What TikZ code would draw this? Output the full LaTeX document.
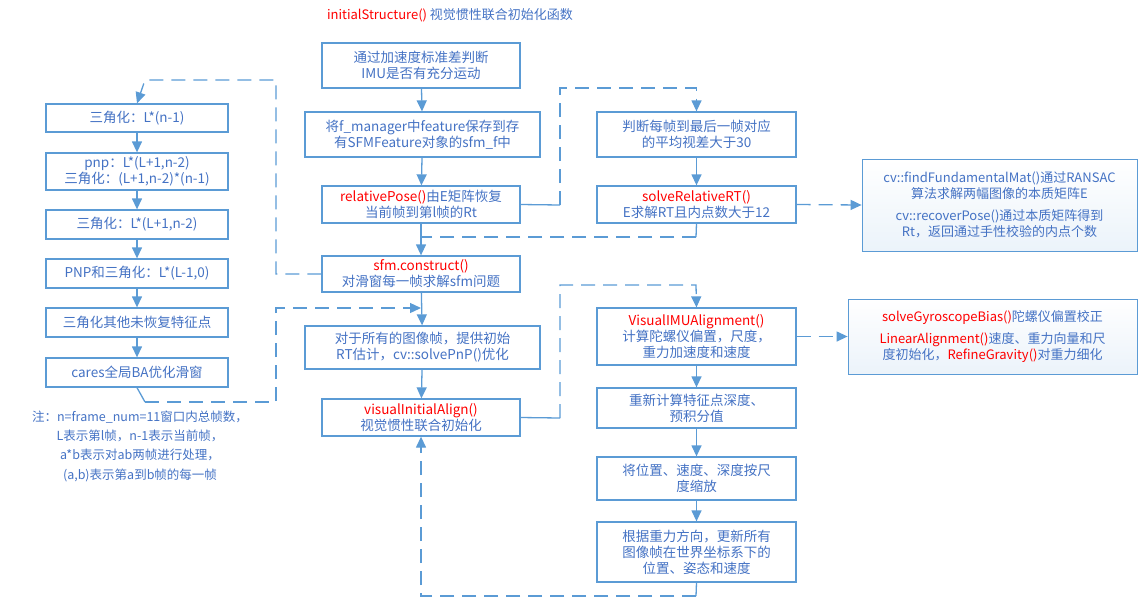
\documentclass[tikz,border=0pt]{standalone}
\usepackage{fontspec}
\setmainfont{Noto Sans CJK SC}
\usetikzlibrary{arrows.meta}
\definecolor{ln}{HTML}{5B9BD5}
\definecolor{tx}{HTML}{4472C4}
\definecolor{rd}{HTML}{FF0000}
\newcommand{\rf}[1]{\textcolor{rd}{#1}}
\tikzset{
  box/.style={draw=ln,line width=1.3pt,fill=white,text=tx,align=center,font=\fontsize{13.5}{16}\selectfont,inner sep=1pt},
  side/.style={box,line width=0.8pt,top color=white,bottom color=ln!12,font=\fontsize{13}{16}\selectfont},
  ar/.style={draw=ln,line width=1.3pt,-{Triangle[length=11pt,width=10pt]}},
  dl/.style={draw=ln,line width=1.3pt,dash pattern=on 14pt off 8pt},
  da/.style={dl,-{Triangle[length=11pt,width=10pt]}},
  pl/.style={draw=ln,line width=1.3pt}
}
\newcommand{\bx}[7][box]{\node[#1,minimum width=#4-#3,minimum height=#6-#5] (#2) at ({(#3+#4)/2},{(#5+#6)/2}) {#7};}
\begin{document}
\begin{tikzpicture}[x=1pt,y=-1pt]
\useasboundingbox (0,0) rectangle (1139,598);
\node[font=\fontsize{13}{15}\selectfont,text=tx] (title) at (450,15) {\rf{initialStructure()}\ 视觉惯性联合初始化函数};
% left column
\bx{L1}{46}{228}{104}{132}{三角化：L*(n-1)}
\bx{L2}{46}{228}{153}{190}{pnp：L*(L+1,n-2)\\三角化：(L+1,n-2)*(n-1)}
\bx{L3}{46}{228}{210}{239}{三角化：L*(L+1,n-2)}
\bx{L4}{46}{228}{259}{288}{PNP和三角化：L*(L-1,0)}
\bx{L5}{46}{228}{308}{337}{三角化其他未恢复特征点}
\bx{L6}{46}{228}{358}{387}{cares全局BA优化滑窗}
\node[text=tx,align=center,font=\fontsize{12.5}{19.3}\selectfont] (note) at (140,446) {注：n=frame\_num=11窗口内总帧数，\\L表示第l帧，n-1表示当前帧，\\a*b表示对ab两帧进行处理，\\(a,b)表示第a到b帧的每一帧};
% middle column
\bx{M0}{322}{520}{43}{88}{通过加速度标准差判断\\IMU是否有充分运动}
\bx{M1}{305}{540}{112}{157}{将f\_manager中feature保存到存\\有SFMFeature对象的sfm\_f中}
\bx{M2}{322}{520}{186}{223}{\rf{relativePose()}由E矩阵恢复\\当前帧到第l帧的Rt}
\bx{M3}{322}{520}{256}{292}{\rf{sfm.construct()}\\对滑窗每一帧求解sfm问题}
\bx{M4}{305}{540}{326}{369}{对于所有的图像帧，提供初始\\RT估计，cv::solvePnP()优化}
\bx{M5}{322}{520}{399}{436}{\rf{visualInitialAlign()}\\视觉惯性联合初始化}
% right column
\bx{R1}{597}{796}{112}{157}{判断每帧到最后一帧对应\\的平均视差大于30}
\bx{R2}{597}{796}{186}{223}{\rf{solveRelativeRT()}\\E求解RT且内点数大于12}
\bx{R3}{597}{796}{308}{365}{\rf{VisualIMUAlignment()}\\计算陀螺仪偏置，尺度，\\重力加速度和速度}
\bx{R4}{597}{796}{388}{428}{重新计算特征点深度、\\预积分值}
\bx{R5}{597}{796}{457}{500}{将位置、速度、深度按尺\\度缩放}
\bx{R6}{597}{796}{522}{582}{根据重力方向，更新所有\\图像帧在世界坐标系下的\\位置、姿态和速度}
\bx[side]{SA}{862}{1137}{159}{251}{cv::findFundamentalMat()通过RANSAC\\算法求解两幅图像的本质矩阵E\\[6pt]cv::recoverPose()通过本质矩阵得到\\Rt，返回通过手性校验的内点个数}
\bx[side]{SB}{848}{1137}{299}{374}{\rf{solveGyroscopeBias()}陀螺仪偏置校正\\[6pt]\rf{LinearAlignment()}速度、重力向量和尺\\度初始化，\rf{RefineGravity()}对重力细化}
% solid arrows
\draw[ar] (M0) -- (M1);
\draw[ar] (M1) -- (M2);
\draw[ar] (M2) -- (M3);
\draw[ar] (M3) -- (M4);
\draw[ar] (M4) -- (M5);
\draw[ar] (R1) -- (R2);
\draw[ar] (R3) -- (R4);
\draw[ar] (R4) -- (R5);
\draw[ar] (R5) -- (R6);
\draw[ar] (L1) -- (L2);
\draw[ar] (L2) -- (L3);
\draw[ar] (L3) -- (L4);
\draw[ar] (L4) -- (L5);
\draw[ar] (L5) -- (L6);
% coordinates
\coordinate (c1) at (560,205);
\coordinate (c2) at (560,88);
\coordinate (c3) at (696,237);
\coordinate (c4) at (421,237);
\coordinate (c5) at (276,274);
\coordinate (c6) at (276,80);
\coordinate (c7) at (145,80);
\coordinate (c8) at (145,402);
\coordinate (c9) at (276,402);
\coordinate (c10) at (276,308);
\coordinate (c11) at (421,308);
\coordinate (c12) at (560,418);
\coordinate (c13) at (560,285);
\coordinate (c14) at (696,285);
\coordinate (c15) at (696,596);
\coordinate (c16) at (421,596);
% dashed connectors
\draw[pl] (M2.east) -- (c1);
\draw[da] (c1) -- (c2) -| (R1.north);
\draw[pl] (R2.south) -- (c3);
\draw[dl] (c3) -- (c4);
\draw[da] (R2.east) -- (SA.west);
\draw[da] (R3.east) -- (SB.west);
\draw[da] (M3.west) -- (c5) -- (c6) -- (c7) -- (L1.north);
\draw[pl] (L6.south) -- (c8);
\draw[da] (c8) -- (c9) -- (c10) -- (c11);
\draw[pl] (M5.east) -- (c12);
\draw[da] (c12) -- (c13) -- (c14) -- (R3.north);
\draw[pl] (R6.south) -- (c15);
\draw[da] (c15) -- (c16) -- (M5.south);
\end{tikzpicture}
\end{document}
